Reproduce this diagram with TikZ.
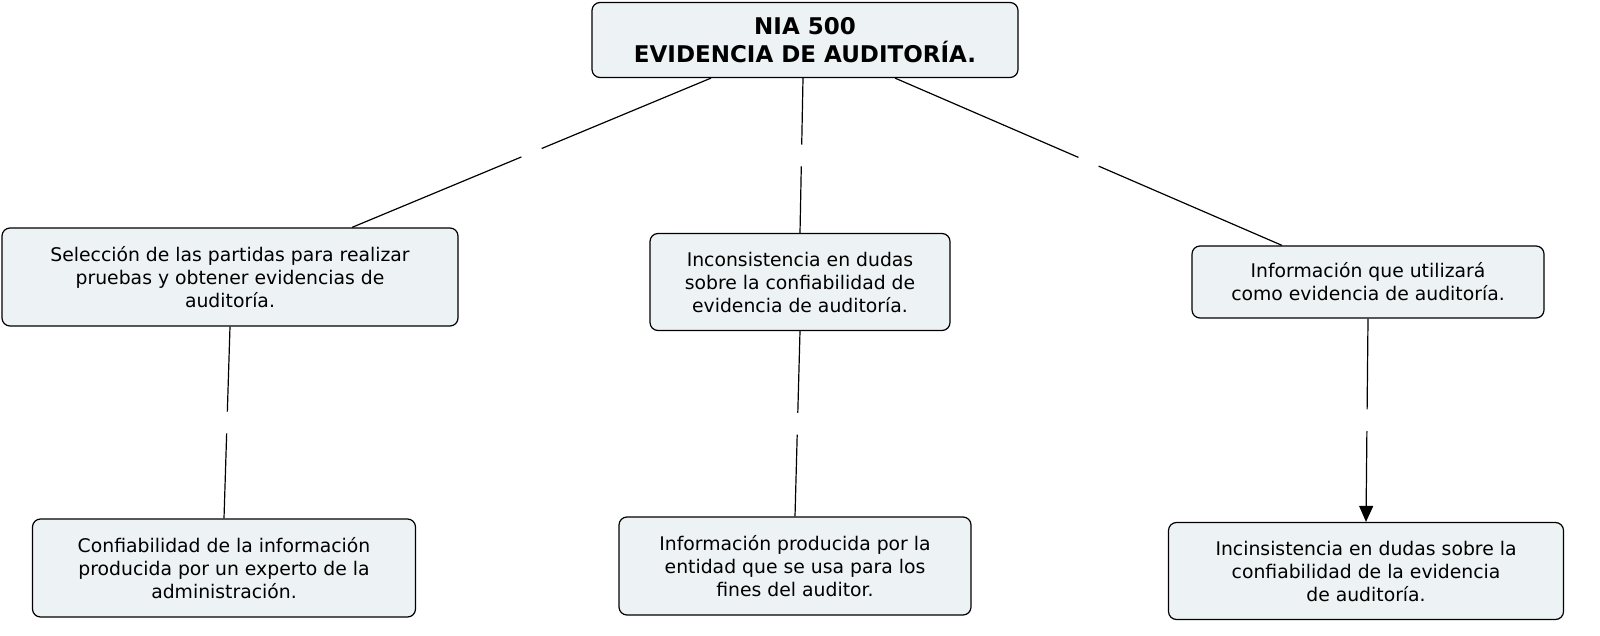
\documentclass[tikz,border=0pt]{standalone}
\usepackage{fontspec}
\setmainfont{DejaVu Sans}
\usetikzlibrary{arrows.meta}
\definecolor{boxfill}{HTML}{EDF3F5}
\begin{document}
\begin{tikzpicture}[x=0.5pt,y=-0.5pt,
  box/.style={draw=black, fill=boxfill, rounded corners=4pt, align=center, font=\fontsize{9.4}{11.5}\selectfont, inner sep=2pt, line width=0.6pt},
  link/.style={line width=0.6pt},
  gap/.style={fill=white, circle, inner sep=0pt, minimum size=11pt, pos=0.5}]
\useasboundingbox (0,0) rectangle (1600,636);
\node[box, minimum width=213pt, minimum height=37.5pt, font=\bfseries\fontsize{11.5}{14}\selectfont] (top) at (805,40) {NIA 500\\EVIDENCIA DE AUDITORÍA.};
\node[box, minimum width=228pt, minimum height=49pt] (A) at (230,277) {Selección de las partidas para realizar\\pruebas y obtener evidencias de\\auditoría.};
\node[box, minimum width=150pt, minimum height=48.5pt] (B) at (800,282) {Inconsistencia en dudas\\sobre la confiabilidad de\\evidencia de auditoría.};
\node[box, minimum width=176pt, minimum height=36pt] (C) at (1368,282) {Información que utilizará\\como evidencia de auditoría.};
\node[box, minimum width=191.5pt, minimum height=49pt] (D) at (224,568) {Confiabilidad de la información\\producida por un experto de la\\administración.};
\node[box, minimum width=176pt, minimum height=49pt] (E) at (795,566) {Información producida por la\\entidad que se usa para los\\fines del auditor.};
\node[box, minimum width=197.5pt, minimum height=48.5pt] (F) at (1366,571) {Incinsistencia en dudas sobre la\\confiabilidad de la evidencia\\de auditoría.};
\draw[link] ([xshift=-47pt]top.south) -- ([xshift=61pt]A.north) node[gap]{};
\draw[link] ([xshift=-1pt]top.south) -- (B.north) node[gap]{};
\draw[link] ([xshift=45pt]top.south) -- ([xshift=-43pt]C.north) node[gap]{};
\draw[link] (A.south) -- ([xshift=0pt]D.north) node[gap]{};
\draw[link] (B.south) -- (E.north) node[gap]{};
\draw[link, -{Triangle[length=8pt,width=7pt]}] (C.south) -- (F.north) node[gap]{};
\end{tikzpicture}
\end{document}
